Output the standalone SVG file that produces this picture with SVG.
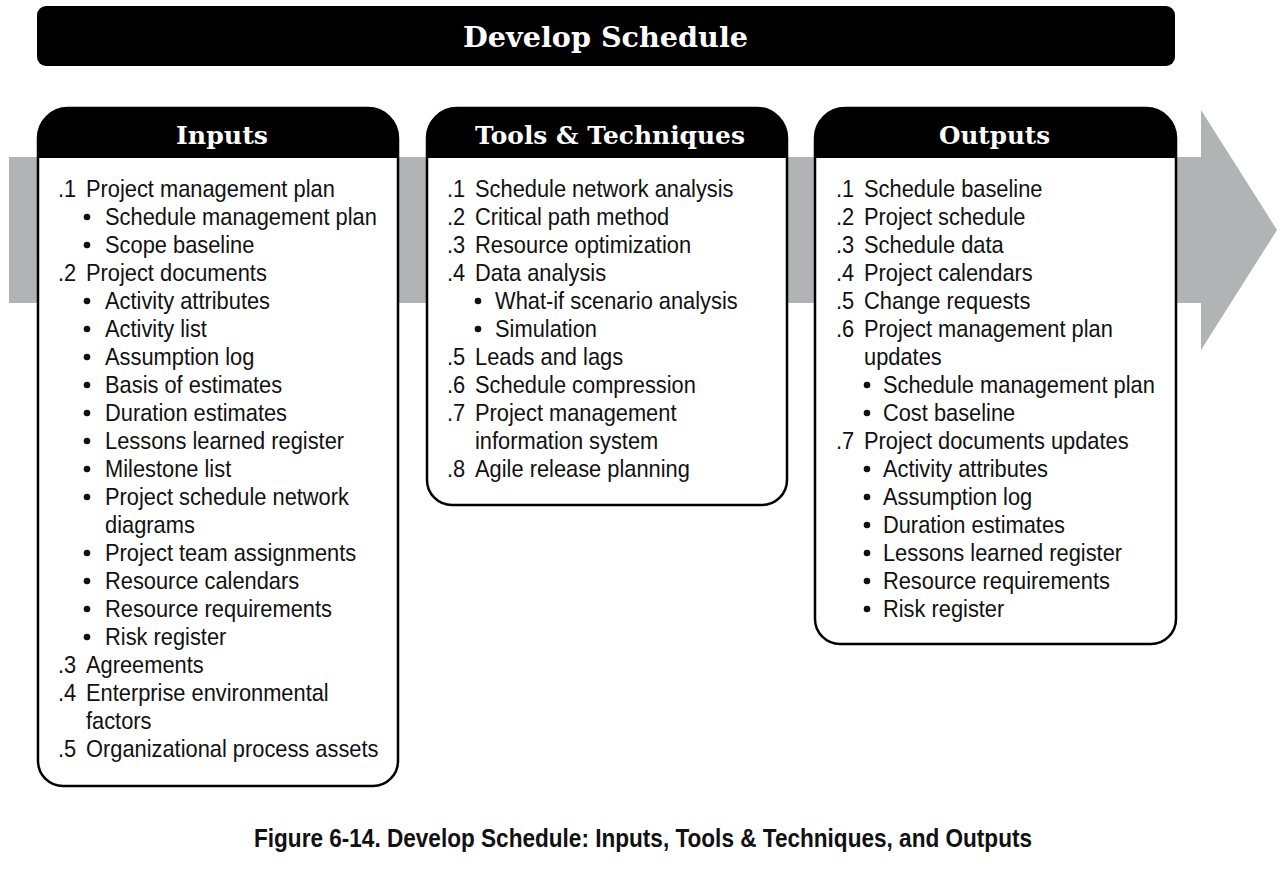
<svg xmlns="http://www.w3.org/2000/svg" width="1281" height="876" viewBox="0 0 1281 876">
<style>
.hd{font-family:"DejaVu Serif","Liberation Serif",serif;font-weight:bold;fill:#fff}
.t{font-family:"Liberation Sans",Arial,sans-serif;font-size:24px;fill:#111}
.cap{font-family:"Liberation Sans",Arial,sans-serif;font-weight:bold;font-size:25px;fill:#111}
.box{fill:#fff;stroke:#000;stroke-width:2.5}
.bar{fill:#000}
.b{fill:#111}
</style>
<rect width="1281" height="876" fill="#fff"/>
<g id="flow-arrow">
<polygon points="9,157 1201,157 1201,110 1277,230 1201,350 1201,303 9,303" fill="#b1b3b5"/>
</g>
<g id="title">
<rect x="37" y="6" width="1138" height="60" rx="9" fill="#000"/>
<text class="hd" x="463" y="47" font-size="28" textLength="285" lengthAdjust="spacingAndGlyphs">Develop Schedule</text>
</g>
<g id="inputs">
<path class="box" d="M38,138 A30,30 0 0 1 68,108 H368 A30,30 0 0 1 398,138 V761 A25,25 0 0 1 373,786 H63 A25,25 0 0 1 38,761 Z"/>
<path class="bar" d="M38,158 V138 A30,30 0 0 1 68,108 H368 A30,30 0 0 1 398,138 V158 Z"/>
<text class="hd" x="176" y="144" font-size="24" textLength="92" lengthAdjust="spacingAndGlyphs">Inputs</text>
<g class="b">
<circle cx="87" cy="217" r="3.3"/><circle cx="87" cy="245" r="3.3"/><circle cx="87" cy="301" r="3.3"/><circle cx="87" cy="329" r="3.3"/><circle cx="87" cy="357" r="3.3"/><circle cx="87" cy="385" r="3.3"/><circle cx="87" cy="413" r="3.3"/><circle cx="87" cy="441" r="3.3"/><circle cx="87" cy="469" r="3.3"/><circle cx="87" cy="497" r="3.3"/><circle cx="87" cy="553" r="3.3"/><circle cx="87" cy="581" r="3.3"/><circle cx="87" cy="609" r="3.3"/><circle cx="87" cy="637" r="3.3"/>
</g>
<g class="t" transform="matrix(0.91 0 0 1 0 0)">
<text x="63.7" y="197">.1</text><text x="94.5" y="197">Project management plan</text>
<text x="115.4" y="225">Schedule management plan</text>
<text x="115.4" y="253">Scope baseline</text>
<text x="63.7" y="281">.2</text><text x="94.5" y="281">Project documents</text>
<text x="115.4" y="309">Activity attributes</text>
<text x="115.4" y="337">Activity list</text>
<text x="115.4" y="365">Assumption log</text>
<text x="115.4" y="393">Basis of estimates</text>
<text x="115.4" y="421">Duration estimates</text>
<text x="115.4" y="449">Lessons learned register</text>
<text x="115.4" y="477">Milestone list</text>
<text x="115.4" y="505">Project schedule network</text>
<text x="115.4" y="533">diagrams</text>
<text x="115.4" y="561">Project team assignments</text>
<text x="115.4" y="589">Resource calendars</text>
<text x="115.4" y="617">Resource requirements</text>
<text x="115.4" y="645">Risk register</text>
<text x="63.7" y="673">.3</text><text x="94.5" y="673">Agreements</text>
<text x="63.7" y="701">.4</text><text x="94.5" y="701">Enterprise environmental</text>
<text x="94.5" y="729">factors</text>
<text x="63.7" y="757">.5</text><text x="94.5" y="757">Organizational process assets</text>
</g>
</g>
<g id="tools">
<path class="box" d="M427,138 A30,30 0 0 1 457,108 H757 A30,30 0 0 1 787,138 V480 A25,25 0 0 1 762,505 H452 A25,25 0 0 1 427,480 Z"/>
<path class="bar" d="M427,158 V138 A30,30 0 0 1 457,108 H757 A30,30 0 0 1 787,138 V158 Z"/>
<text class="hd" x="475" y="144" font-size="24" textLength="270" lengthAdjust="spacingAndGlyphs">Tools &amp; Techniques</text>
<g class="b">
<circle cx="478" cy="301" r="3.3"/><circle cx="478" cy="329" r="3.3"/>
</g>
<g class="t" transform="matrix(0.91 0 0 1 0 0)">
<text x="491.2" y="197">.1</text><text x="522" y="197">Schedule network analysis</text>
<text x="491.2" y="225">.2</text><text x="522" y="225">Critical path method</text>
<text x="491.2" y="253">.3</text><text x="522" y="253">Resource optimization</text>
<text x="491.2" y="281">.4</text><text x="522" y="281">Data analysis</text>
<text x="544" y="309">What-if scenario analysis</text>
<text x="544" y="337">Simulation</text>
<text x="491.2" y="365">.5</text><text x="522" y="365">Leads and lags</text>
<text x="491.2" y="393">.6</text><text x="522" y="393">Schedule compression</text>
<text x="491.2" y="421">.7</text><text x="522" y="421">Project management</text>
<text x="522" y="449">information system</text>
<text x="491.2" y="477">.8</text><text x="522" y="477">Agile release planning</text>
</g>
</g>
<g id="outputs">
<path class="box" d="M815,138 A30,30 0 0 1 845,108 H1146 A30,30 0 0 1 1176,138 V619 A25,25 0 0 1 1151,644 H840 A25,25 0 0 1 815,619 Z"/>
<path class="bar" d="M815,158 V138 A30,30 0 0 1 845,108 H1146 A30,30 0 0 1 1176,138 V158 Z"/>
<text class="hd" x="939" y="144" font-size="24" textLength="111" lengthAdjust="spacingAndGlyphs">Outputs</text>
<g class="b">
<circle cx="867" cy="385" r="3.3"/><circle cx="867" cy="413" r="3.3"/><circle cx="867" cy="469" r="3.3"/><circle cx="867" cy="497" r="3.3"/><circle cx="867" cy="525" r="3.3"/><circle cx="867" cy="553" r="3.3"/><circle cx="867" cy="581" r="3.3"/><circle cx="867" cy="609" r="3.3"/>
</g>
<g class="t" transform="matrix(0.91 0 0 1 0 0)">
<text x="918.7" y="197">.1</text><text x="949.5" y="197">Schedule baseline</text>
<text x="918.7" y="225">.2</text><text x="949.5" y="225">Project schedule</text>
<text x="918.7" y="253">.3</text><text x="949.5" y="253">Schedule data</text>
<text x="918.7" y="281">.4</text><text x="949.5" y="281">Project calendars</text>
<text x="918.7" y="309">.5</text><text x="949.5" y="309">Change requests</text>
<text x="918.7" y="337">.6</text><text x="949.5" y="337">Project management plan</text>
<text x="949.5" y="365">updates</text>
<text x="970.3" y="393">Schedule management plan</text>
<text x="970.3" y="421">Cost baseline</text>
<text x="918.7" y="449">.7</text><text x="949.5" y="449">Project documents updates</text>
<text x="970.3" y="477">Activity attributes</text>
<text x="970.3" y="505">Assumption log</text>
<text x="970.3" y="533">Duration estimates</text>
<text x="970.3" y="561">Lessons learned register</text>
<text x="970.3" y="589">Resource requirements</text>
<text x="970.3" y="617">Risk register</text>
</g>
</g>
<g id="caption">
<text class="cap" x="254" y="847" textLength="778" lengthAdjust="spacingAndGlyphs">Figure 6-14. Develop Schedule: Inputs, Tools &amp; Techniques, and Outputs</text>
</g>
</svg>
